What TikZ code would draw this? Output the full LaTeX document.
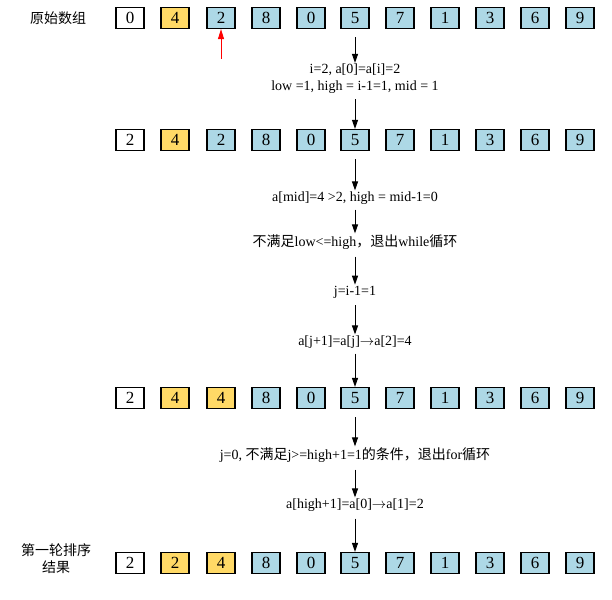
\documentclass[tikz,border=0pt]{standalone}
\usepackage{fontspec}
\setmainfont{Liberation Serif}
\newfontfamily\cjk{Noto Sans CJK SC}
\usetikzlibrary{arrows.meta}
\definecolor{bl}{HTML}{ADD8E6}
\definecolor{yl}{HTML}{FFD966}
\begin{document}
\begin{tikzpicture}[x=1pt,y=-1pt,font=\fontsize{14}{17}\selectfont,
  cell/.style={draw=black,line width=1.2pt,minimum width=28pt,minimum height=21pt,inner sep=0pt,fill=bl,font=\fontsize{17}{17}\selectfont},
  wcell/.style={cell,fill=white},
  ycell/.style={cell,fill=yl},
  flow/.style={-{Triangle[width=6pt,length=9pt]},line width=1pt},
  txt/.style={align=center,inner sep=1pt}]
\useasboundingbox (0,0) rectangle (612,599);
\def\xs{{130,175,221,266,311,355,400,445,490,535,580}}
\newcommand\cellrow[4]{%
  \foreach \v [count=\i from 0] in {#2} {%
    \pgfmathsetmacro\xx{\xs[\i]}%
    \ifnum\i=0 \def\st{wcell}\else\ifnum\i<#3 \def\st{ycell}\else\def\st{cell}\fi\fi
    \node[\st] (#1\i) at (\xx,#4) {\v};}}
\cellrow{a}{0,4,2,8,0,5,7,1,3,6,9}{2}{18}
\cellrow{b}{2,4,2,8,0,5,7,1,3,6,9}{2}{140}
\cellrow{c}{2,4,4,8,0,5,7,1,3,6,9}{3}{398}
\cellrow{d}{2,2,4,8,0,5,7,1,3,6,9}{3}{563}
\node[txt] at (58,18) {\cjk 原始数组};
\node[txt] at (56,559) {\cjk 第一轮排序\\\cjk 结果};
\coordinate (r) at (221,59);
\draw[-{Triangle[width=6pt,length=10pt]},red,line width=1pt] (r) -- (a2.south);
\node[txt] (t1) at (355,79) {i=2, a[0]=a[i]=2\\low =1, high = i-1=1, mid = 1};
\node[txt] (t2) at (355,198) {a[mid]=4 >2, high = mid-1=0};
\node[txt] (t3) at (355,242) {\cjk 不满足\rmfamily low<=high\cjk ，退出\rmfamily while\cjk 循环};
\node[txt] (t4) at (355,292) {j=i-1=1};
\node[txt] (t5) at (355,342) {a[j+1]=a[j]$\to$a[2]=4};
\node[txt] (t6) at (355,455) {j=0, {\cjk 不满足}j>=high+1=1{\cjk 的条件，退出}for{\cjk 循环}};
\node[txt] (t7) at (355,505) {a[high+1]=a[0]$\to$a[1]=2};
\draw[flow] (a5.south)++(0,8) -- (t1.north);
\draw[flow] (t1.south)++(0,4) -- (b5.north);
\draw[flow] (b5.south) ++(0,8) -- (t2.north);
\draw[flow] (t2.south) ++(0,4) -- (t3.north);
\draw[flow] (t3.south) ++(0,6) -- (t4.north);
\draw[flow] (t4.south) ++(0,6) -- (t5.north);
\draw[flow] (t5.south) ++(0,4) -- (c5.north);
\draw[flow] (c5.south) ++(0,8) -- (t6.north);
\draw[flow] (t6.south) ++(0,6) -- (t7.north);
\draw[flow] (t7.south) ++(0,6) -- (d5.north);
\end{tikzpicture}
\end{document}
